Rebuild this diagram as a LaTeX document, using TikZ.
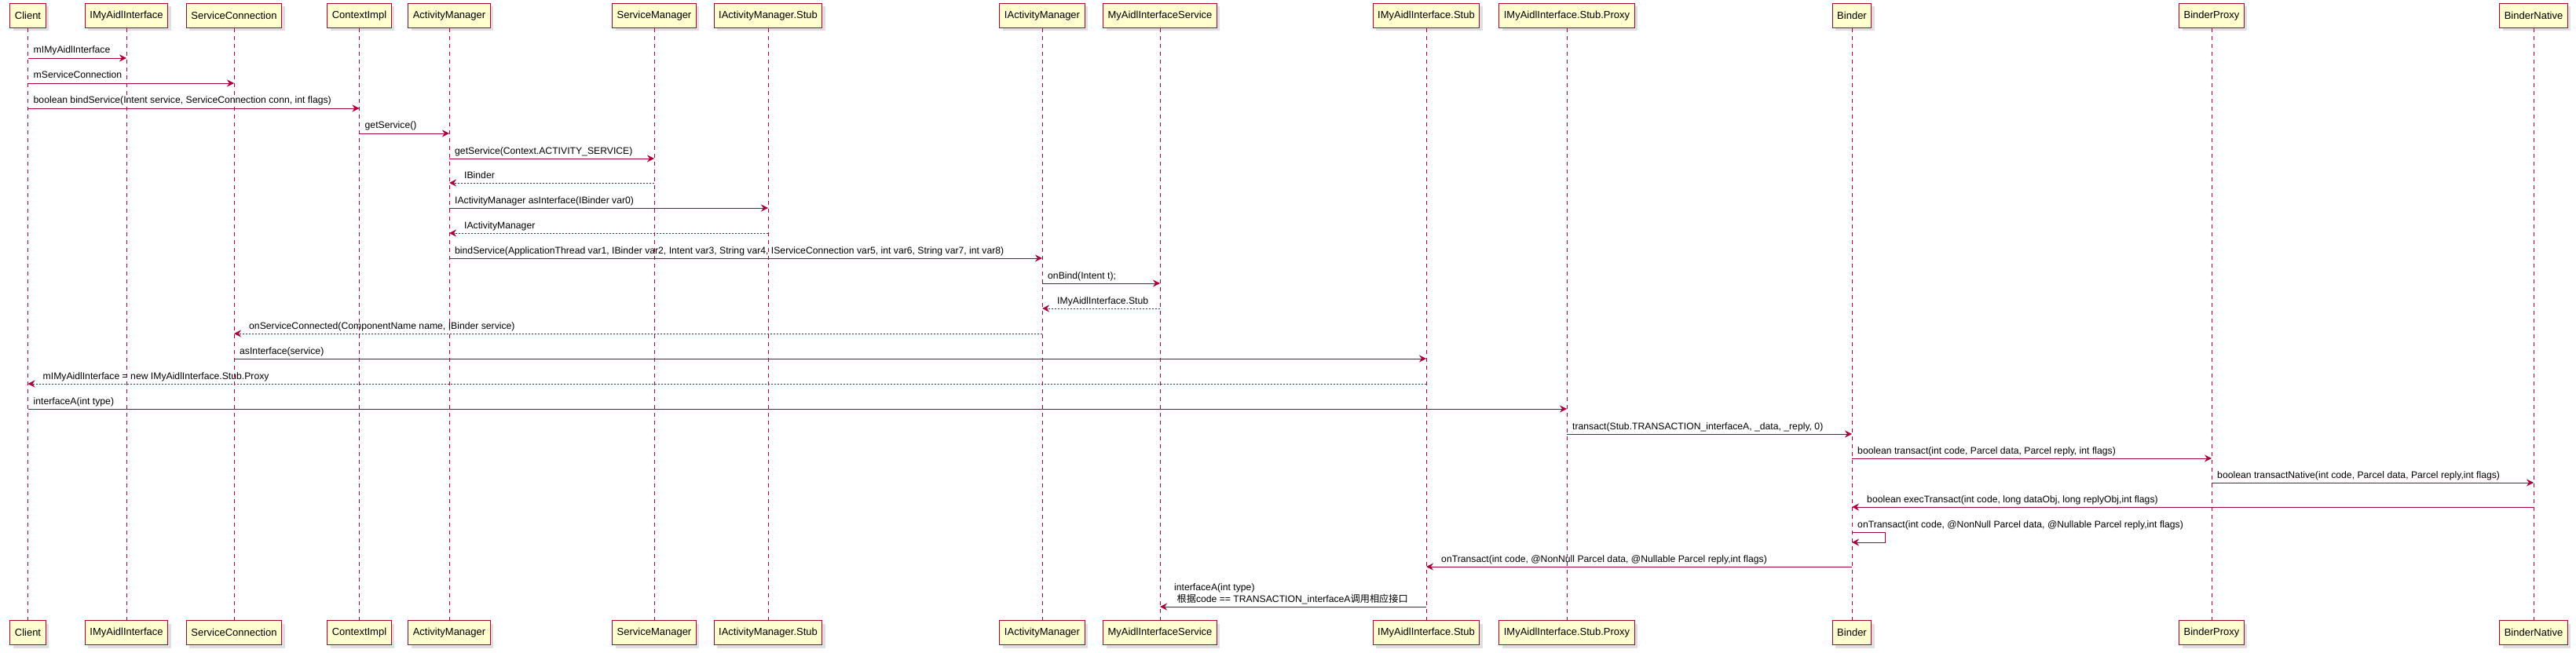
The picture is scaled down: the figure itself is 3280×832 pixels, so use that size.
\documentclass[tikz,border=0pt]{standalone}
\usepackage{fontspec}
\setmainfont{Liberation Sans}
\newfontfamily\cjk{Noto Sans CJK SC}
\usetikzlibrary{arrows.meta,shadows}
\definecolor{pline}{HTML}{A80036}
\definecolor{pfill}{HTML}{FEFECE}
\tikzset{
  pbox/.style={draw=pline,line width=1pt,fill=pfill,font=\fontsize{13}{15}\selectfont,
    minimum height=31pt,inner xsep=6pt,
    drop shadow={shadow xshift=4pt,shadow yshift=-4pt,fill=black!25}},
  life/.style={draw=pline,line width=0.7pt,dash pattern=on 5pt off 5pt},
  msg/.style={draw=pline,line width=0.9pt,-{Stealth[length=9pt,width=9pt,inset=3pt]}},
  ret/.style={msg,dash pattern=on 2pt off 2pt},
  lbl/.style={font=\fontsize{12.2}{14}\selectfont,inner sep=0pt,anchor=base west}
}
\newcommand{\partic}[3]{%
  \node[pbox] (#1-t) at (#2,20) {#3};
  \node[pbox] (#1-b) at (#2,806) {#3};
  \draw[life] (#1-t) -- (#1-b);}
% left to right: from, to, y, label
\newcommand{\msgR}[5][msg]{%
  \draw[#1] (#2-t |- 0,#4) -- (#3-t |- 0,#4);
  \node[lbl] at ([xshift=7pt]#2-t |- 0,#4-6) {#5};}
% right to left: from, to, y, label
\newcommand{\msgL}[5][msg]{%
  \draw[#1] (#2-t |- 0,#4) -- (#3-t |- 0,#4);
  \node[lbl] at ([xshift=19pt]#3-t |- 0,#4-6) {#5};}
\begin{document}
\begin{tikzpicture}[x=1pt,y=-1pt]
\useasboundingbox (0,0) rectangle (3280,832);
\partic{client}{35.5}{Client}
\partic{imy}{161}{IMyAidlInterface}
\partic{sc}{298}{ServiceConnection}
\partic{ctx}{457.5}{ContextImpl}
\partic{am}{572}{ActivityManager}
\partic{sm}{833}{ServiceManager}
\partic{ams}{978}{IActivityManager.Stub}
\partic{iam}{1327}{IActivityManager}
\partic{mais}{1477}{MyAidlInterfaceService}
\partic{stub}{1816}{IMyAidlInterface.Stub}
\partic{proxy}{1995}{IMyAidlInterface.Stub.Proxy}
\partic{binder}{2358}{Binder}
\partic{bproxy}{2816}{BinderProxy}
\partic{bnative}{3226}{BinderNative}

\msgR{client}{imy}{74}{mIMyAidlInterface}
\msgR{client}{sc}{106}{mServiceConnection}
\msgR{client}{ctx}{138}{boolean bindService(Intent service, ServiceConnection conn, int flags)}
\msgR{ctx}{am}{170}{getService()}
\msgR{am}{sm}{202}{getService(Context.ACTIVITY\_SERVICE)}
\msgL[ret]{sm}{am}{233}{IBinder}
\msgR{am}{ams}{265}{IActivityManager asInterface(IBinder var0)}
\msgL[ret]{ams}{am}{297}{IActivityManager}
\msgR{am}{iam}{329}{bindService(ApplicationThread var1, IBinder var2, Intent var3, String var4, IServiceConnection var5, int var6, String var7, int var8)}
\msgR{iam}{mais}{361}{onBind(Intent t);}
\msgL[ret]{mais}{iam}{393}{IMyAidlInterface.Stub}
\msgL[ret]{iam}{sc}{425}{onServiceConnected(ComponentName name, IBinder service)}
\msgR{sc}{stub}{457}{asInterface(service)}
\msgL[ret]{stub}{client}{489}{mIMyAidlInterface = new IMyAidlInterface.Stub.Proxy}
\msgR{client}{proxy}{521}{interfaceA(int type)}
\msgR{proxy}{binder}{553}{transact(Stub.TRANSACTION\_interfaceA, \_data, \_reply, 0)}
\msgR{binder}{bproxy}{584}{boolean transact(int code, Parcel data, Parcel reply, int flags)}
\msgR{bproxy}{bnative}{615}{boolean transactNative(int code, Parcel data, Parcel reply,int flags)}
\msgL{bnative}{binder}{646}{boolean execTransact(int code, long dataObj, long replyObj,int flags)}
% self message
\draw[msg] (binder-t |- 0,678) -- ([xshift=42pt]binder-t |- 0,678) -- ([xshift=42pt]binder-t |- 0,691) -- (binder-t |- 0,691);
\node[lbl] at ([xshift=7pt]binder-t |- 0,672) {onTransact(int code, @NonNull Parcel data, @Nullable Parcel reply,int flags)};
\msgL{binder}{stub}{722}{onTransact(int code, @NonNull Parcel data, @Nullable Parcel reply,int flags)}
\draw[msg] (stub-t |- 0,773) -- (mais-t |- 0,773);
\node[lbl] at ([xshift=18pt]mais-t |- 0,752) {interfaceA(int type)};
\node[lbl] at ([xshift=18pt]mais-t |- 0,767) {\ {\cjk 根据}code == TRANSACTION\_interfaceA{\cjk 调用相应接口}};
\end{tikzpicture}
\end{document}
